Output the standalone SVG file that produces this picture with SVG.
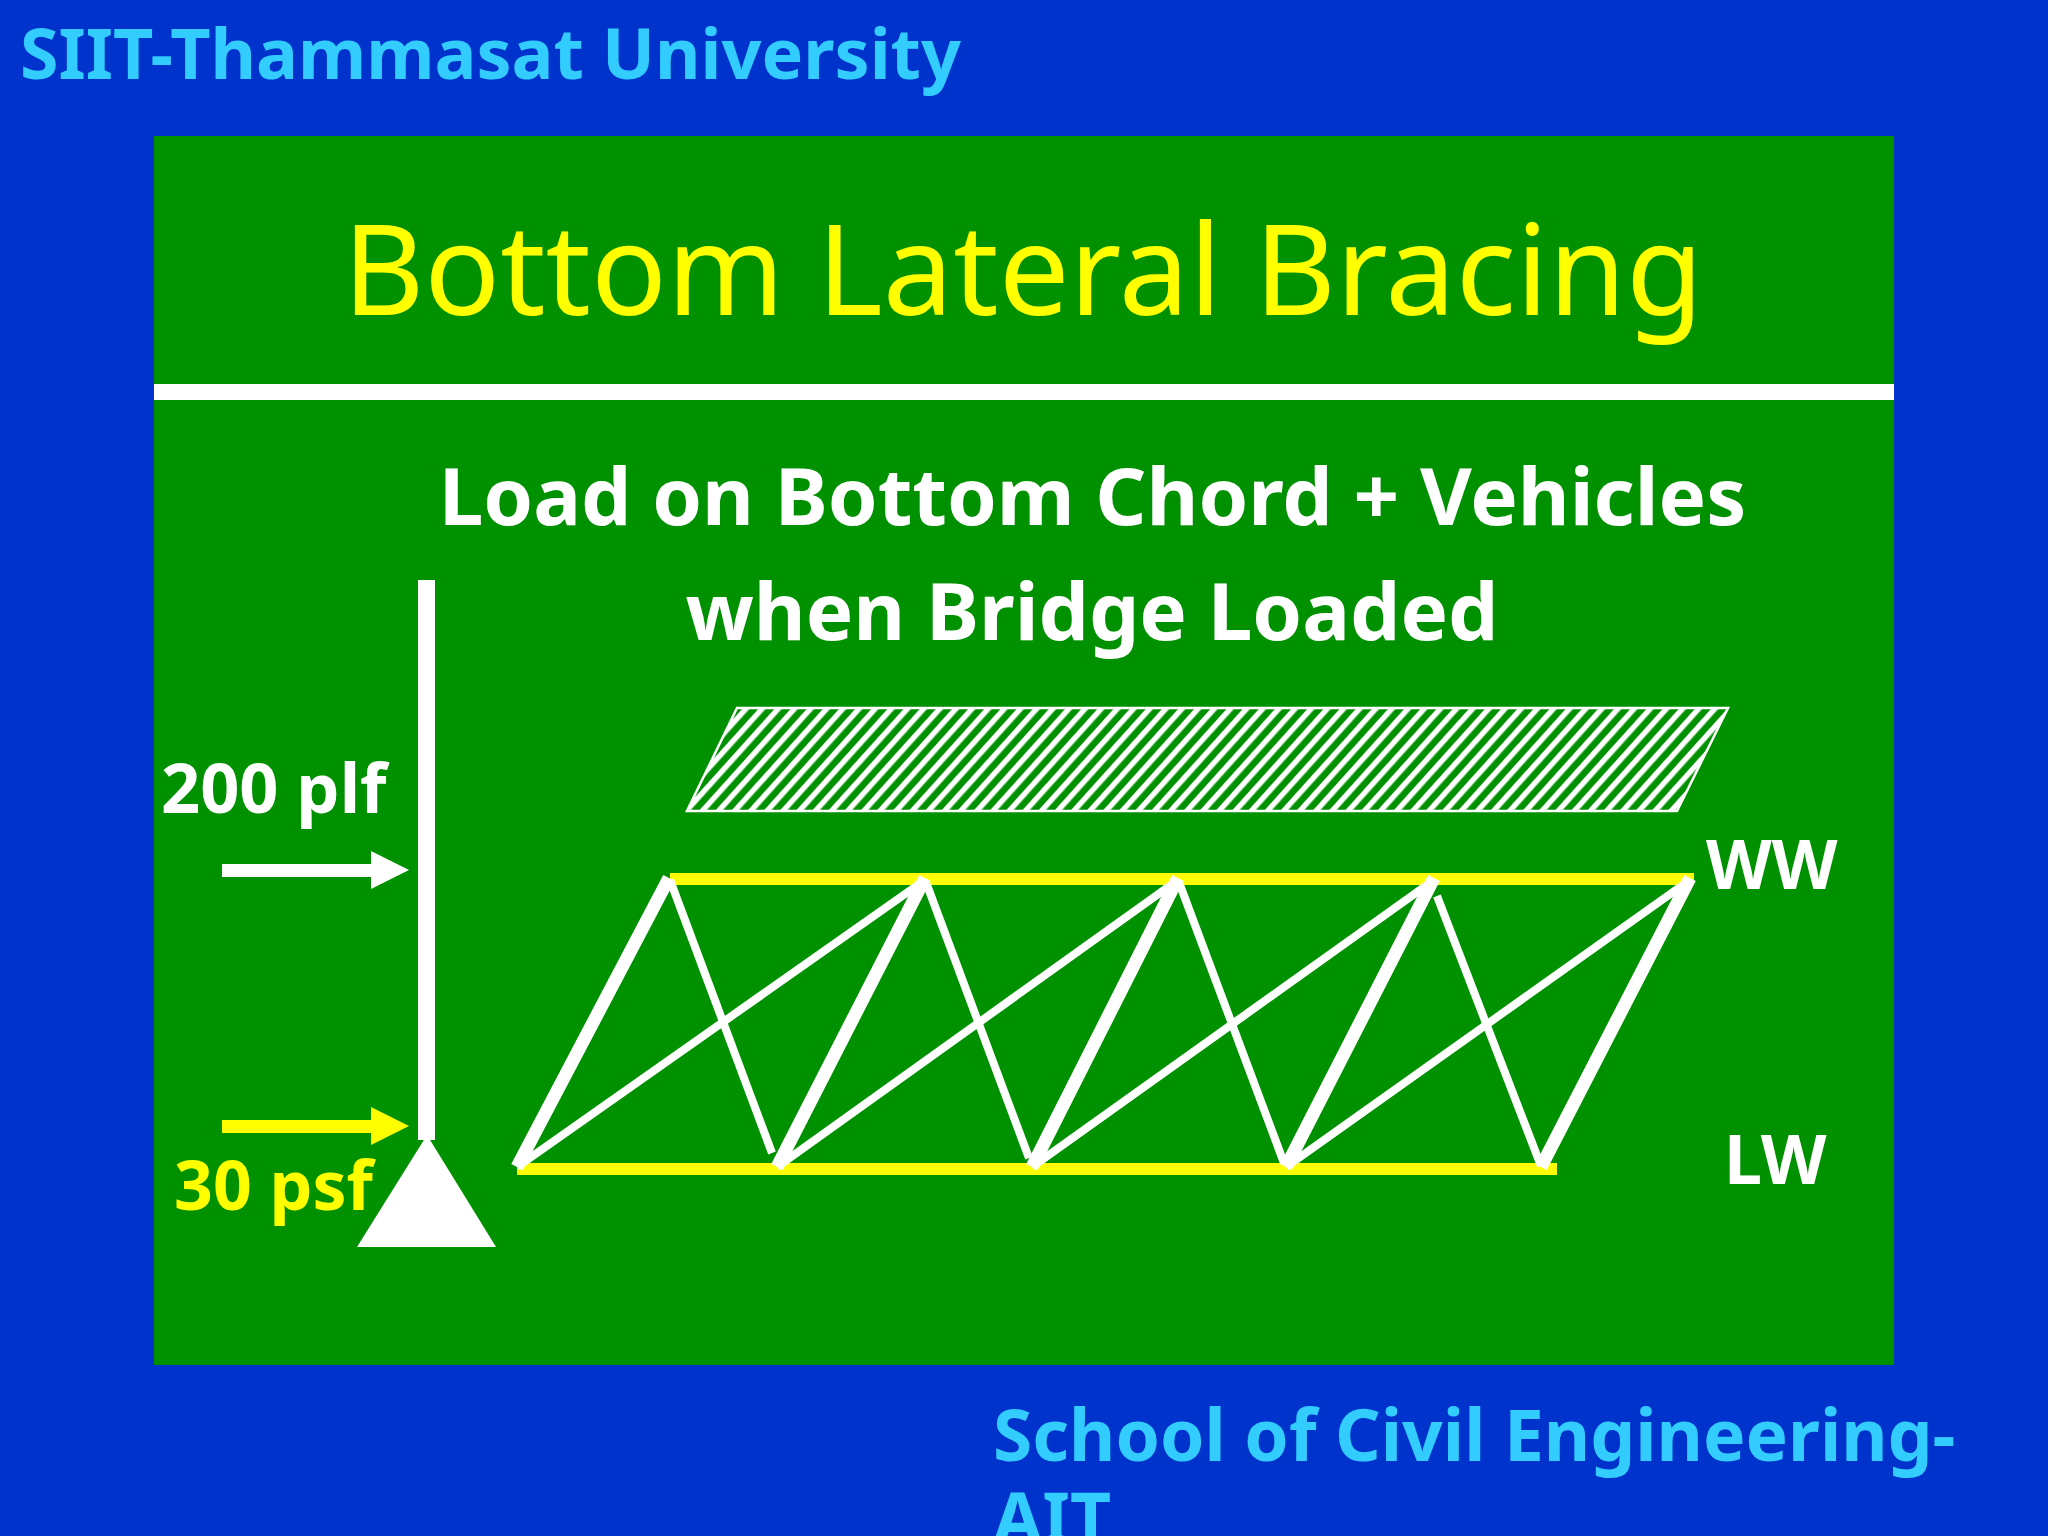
<svg xmlns="http://www.w3.org/2000/svg" width="2048" height="1536" viewBox="0 0 2048 1536">
<style>
text{font-family:"Noto Sans","Open Sans","DejaVu Sans",sans-serif}
.b{font-weight:700}
.w{fill:#fff}
.y{fill:#ff0}
.c{fill:#33ccff}
.thick{stroke:#fff;stroke-width:13;stroke-linecap:butt}
.mid{stroke:#fff;stroke-width:8}
.thin{stroke:#fff;stroke-width:8}
.chord{stroke:#ff0;stroke-width:12}
</style>
<defs>
<pattern id="hatch" patternUnits="userSpaceOnUse" width="12" height="20" patternTransform="translate(743 708) rotate(42)">
<rect x="0" y="0" width="5.4" height="20" fill="#fff"/>
</pattern>
</defs>
<rect width="2048" height="1536" fill="#0033cc"/>
<rect x="154" y="136" width="1740" height="1229" fill="#009100"/>
<rect x="154" y="384" width="1740" height="16" fill="#fff"/>
<text class="b c" x="20" y="79" font-size="70">SIIT-Thammasat University</text>
<text class="y" x="1023" y="315" font-size="125.6" text-anchor="middle">Bottom Lateral Bracing</text>
<text class="b w" x="1092.5" y="525" font-size="79.8" text-anchor="middle">Load on Bottom Chord + Vehicles</text>
<text class="b w" x="1092" y="640" font-size="79.8" text-anchor="middle">when Bridge Loaded</text>
<text class="b c" x="993" y="1461" font-size="71.3">School of Civil Engineering-</text>
<text class="b c" x="993" y="1544" font-size="71.3">AIT</text>
<g id="deck"><polygon points="737,708 1728,708 1677,811 687,811" fill="url(#hatch)" stroke="#fff" stroke-width="2.5"/></g>
<g id="column"><rect x="418" y="580" width="17" height="560" fill="#fff"/><polygon points="427,1135 496,1247 357,1247" fill="#fff"/></g>
<g id="load-wind"><rect x="222" y="864" width="150" height="13" fill="#fff"/><polygon points="371,851 409,870 371,889" fill="#fff"/><text class="b w" x="161" y="813" font-size="68.5">200 plf</text></g>
<g id="load-vehicle"><rect x="222" y="1120" width="150" height="13" fill="#ff0"/><polygon points="371,1107 409,1126 371,1145" fill="#ff0"/><text class="b y" x="174" y="1210" font-size="68">30 psf</text></g>
<g id="label-ww"><text class="b w" x="1706" y="889" font-size="68">WW</text></g>
<g id="label-lw"><text class="b w" x="1724" y="1184" font-size="68">LW</text></g>
<g id="connectors">
<line class="chord" x1="670" y1="879" x2="1694" y2="879"/>
<line class="chord" x1="517" y1="1169" x2="1557" y2="1169"/>
<line class="thick" x1="517" y1="1167" x2="669" y2="878"/>
<line class="thick" x1="777" y1="1167" x2="925" y2="878"/>
<line class="thick" x1="1032" y1="1167" x2="1178" y2="878"/>
<line class="thick" x1="1286" y1="1167" x2="1434" y2="878"/>
<line class="thick" x1="1541" y1="1167" x2="1690" y2="878"/>
<line class="mid" x1="517" y1="1167" x2="925" y2="880"/>
<line class="mid" x1="777" y1="1167" x2="1178" y2="880"/>
<line class="mid" x1="1032" y1="1167" x2="1434" y2="880"/>
<line class="mid" x1="1286" y1="1167" x2="1690" y2="880"/>
<line class="thin" x1="670" y1="880" x2="772" y2="1153"/>
<line class="thin" x1="927" y1="885" x2="1029" y2="1158"/>
<line class="thin" x1="1180" y1="885" x2="1284" y2="1163"/>
<line class="thin" x1="1437" y1="896" x2="1541" y2="1166"/>
</g>
</svg>
